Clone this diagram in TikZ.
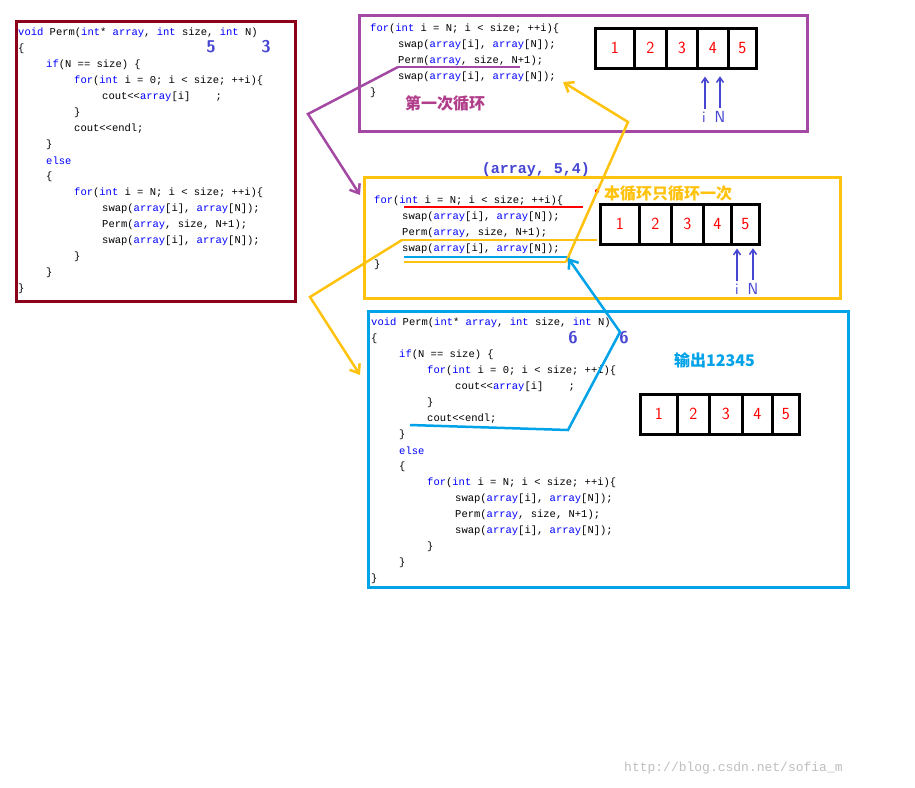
\documentclass[tikz,border=0pt]{standalone}
\usepackage{fontspec}
\setmonofont{Liberation Mono}
\newfontfamily\cjk{Noto Sans CJK SC}
\usetikzlibrary{arrows.meta}
\definecolor{kwb}{RGB}{0,0,255}
\definecolor{maroon}{RGB}{140,0,26}
\definecolor{purp}{RGB}{163,73,164}
\definecolor{yel}{RGB}{255,194,14}
\definecolor{sky}{RGB}{0,162,232}
\definecolor{numb}{RGB}{70,70,210}
\newcommand{\kw}[1]{\textcolor{kwb}{#1}}
\tikzset{code/.style={anchor=west,inner sep=0pt,font=\ttfamily\fontsize{10.5}{12}\selectfont},
 cell/.style={draw=black,line width=2.5pt,minimum height=40pt,inner sep=0pt,text=red,font=\sffamily\fontsize{17}{18}\selectfont},
 big/.style={font=\sffamily\bfseries\fontsize{17}{18}\selectfont,text=numb,inner sep=0pt},
 ptr/.style={-{Straight Barb[length=5pt,width=7pt]},numb,line width=1.5pt},
 hl/.style={line width=2.5pt},
 ar/.style={hl,-{Straight Barb[length=8pt,width=12pt]}}}
\begin{document}
\begin{tikzpicture}[x=1pt,y=-1pt]
\useasboundingbox[fill=white] (0,0) rectangle (915,787);
% left box
\draw[maroon,line width=3pt] (16,21) rectangle (295,301);
\node[code] (a1) at (18,33) {\kw{void} Perm(\kw{int}* \kw{array}, \kw{int} size, \kw{int} N)};
\node[code] (a2) at (18,49) {\{};
\node[big] (a5) at (211,47) {5};
\node[big] (a3) at (266,47) {3};
\node[code] (a3l) at (46,65) {\kw{if}(N == size) \{};
\node[code] (a4) at (74,81) {\kw{for}(\kw{int} i = 0; i < size; ++i)\{};
\node[code] (a6) at (102,97) {cout<<\kw{array}[i]~~~~;};
\node[code] (a7) at (74,113) {\}};
\node[code] (a8) at (74,129) {cout<<endl;};
\node[code] (a9) at (46,145) {\}};
\node[code] (a10) at (46,161) {\kw{else}};
\node[code] (a11) at (46,177) {\{};
\node[code] (a12) at (74,193) {\kw{for}(\kw{int} i = N; i < size; ++i)\{};
\node[code] (a13) at (102,209) {swap(\kw{array}[i], \kw{array}[N]);};
\node[code] (a14) at (102,225) {Perm(\kw{array}, size, N+1);};
\node[code] (a15) at (102,241) {swap(\kw{array}[i], \kw{array}[N]);};
\node[code] (a16) at (74,257) {\}};
\node[code] (a17) at (46,273) {\}};
\node[code] (a18) at (18,289) {\}};
% purple box
\draw[purp,line width=3pt] (359,15) rectangle (807,131);
\node[code] (p1) at (370,29) {\kw{for}(\kw{int} i = N; i < size; ++i)\{};
\node[code] (p2) at (398,45) {swap(\kw{array}[i], \kw{array}[N]);};
\node[code] (p3) at (398,61) {Perm(\kw{array}, size, N+1);};
\node[code] (p4) at (398,77) {swap(\kw{array}[i], \kw{array}[N]);};
\node[code] (p5) at (370,93) {\}};
\node[anchor=west,inner sep=0pt,text=purp!85!red,font=\cjk\bfseries\fontsize{16}{16}\selectfont] (pt) at (405,103) {第一次循环};
\foreach \x/\w/\n in {594/39/1,633/32/2,665/31/3,696/31/4,727/28/5}
  \node[cell,minimum width=\w pt,anchor=north west] (pc\n) at (\x,27) {\n};
\node[big,font=\sffamily\fontsize{16}{16}\selectfont] (pi) at (704,117) {i};
\node[big,font=\sffamily\fontsize{16}{16}\selectfont] (pn) at (720,117) {N};
\draw[ptr] (pi.north) ++(1,-3) coordinate (pia) -- ++(0,-32);
\draw[ptr] (pn.north) ++(0,-3) coordinate (pna) -- ++(0,-32);
% yellow box
\draw[yel,line width=3pt] (364,177) rectangle (840,298);
\node[big,font=\ttfamily\bfseries\fontsize{15}{16}\selectfont] (call) at (536,170) {(array, 5,4)};
\node[code] (y1) at (374,201) {\kw{for}(\kw{int} i = N; i < size; ++i)\{};
\node[code] (y2) at (402,217) {swap(\kw{array}[i], \kw{array}[N]);};
\node[code] (y3) at (402,233) {Perm(\kw{array}, size, N+1);};
\node[code] (y4) at (402,249) {swap(\kw{array}[i], \kw{array}[N]);};
\node[code] (y5) at (374,265) {\}};
\draw[red,hl] (404,207) -- (583,207);
\node[circle,fill=red,inner sep=1.5pt] (rd) at (597,191) {};
\node[anchor=west,inner sep=0pt,text=yel,font=\cjk\bfseries\fontsize{16}{16}\selectfont] (yt) at (604,194) {本循环只循环一次};
\foreach \x/\w/\n in {599/39/1,638/32/2,670/32/3,702/28/4,730/28/5}
  \node[cell,minimum width=\w pt,anchor=north west] (yc\n) at (\x,203) {\n};
\node[big,font=\sffamily\fontsize{16}{16}\selectfont] (yi) at (737,289) {i};
\node[big,font=\sffamily\fontsize{16}{16}\selectfont] (yn) at (753,289) {N};
\draw[ptr] (yi.north) ++(0,-3) -- ++(0,-32);
\draw[ptr] (yn.north) ++(0,-3) -- ++(0,-32);
\draw[sky,hl] (404,257) -- (570,257);
\draw[yel,hl] (404,262) -- (566,262);
\draw[yel,hl] (402,240) -- (597,240);
\draw[purp,hl] (398,67) -- (520,67);
% blue box
\draw[sky,line width=3pt] (368,311) rectangle (848,587);
\node[code] (b1) at (371,323) {\kw{void} Perm(\kw{int}* \kw{array}, \kw{int} size, \kw{int} N)};
\node[code] (b2) at (371,339) {\{};
\node[big] (b6a) at (573,338) {6};
\node[big] (b6b) at (624,338) {6};
\node[code] (b3) at (399,355) {\kw{if}(N == size) \{};
\node[code] (b4) at (427,371) {\kw{for}(\kw{int} i = 0; i < size; ++i)\{};
\node[code] (b5) at (455,387) {cout<<\kw{array}[i]~~~~;};
\node[code] (b7) at (427,403) {\}};
\node[code] (b8) at (427,419) {cout<<endl;};
\node[code] (b9) at (399,435) {\}};
\node[code] (b10) at (399,451) {\kw{else}};
\node[code] (b11) at (399,467) {\{};
\node[code] (b12) at (427,483) {\kw{for}(\kw{int} i = N; i < size; ++i)\{};
\node[code] (b13) at (455,499) {swap(\kw{array}[i], \kw{array}[N]);};
\node[code] (b14) at (455,515) {Perm(\kw{array}, size, N+1);};
\node[code] (b15) at (455,531) {swap(\kw{array}[i], \kw{array}[N]);};
\node[code] (b16) at (427,547) {\}};
\node[code] (b17) at (399,563) {\}};
\node[code] (b18) at (371,579) {\}};
\node[anchor=west,inner sep=0pt,text=sky,font=\cjk\bfseries\fontsize{16}{16}\selectfont] (bt) at (674,360) {输出12345};
\foreach \x/\w/\n in {639/37/1,676/32/2,708/33/3,741/30/4,771/27/5}
  \node[cell,minimum width=\w pt,anchor=north west] (bc\n) at (\x,393) {\n};
% connectors
\coordinate (pu) at (398,67);
\coordinate (pm) at (308,114);
\coordinate (pe) at (360,195);
\draw[purp,ar] (pu) -- (pm) -- (pe);
\coordinate (yu) at (402,240);
\coordinate (ym) at (310,297);
\coordinate (ye) at (360,375);
\draw[yel,ar] (yu) -- (ym) -- (ye);
\coordinate (yu2) at (566,262);
\coordinate (ym2) at (628,122);
\coordinate (ye2) at (563,82);
\draw[yel,ar] (yu2) -- (ym2) -- (ye2);
\coordinate (bu) at (410,425);
\coordinate (bm1) at (568,430);
\coordinate (bm2) at (620,332);
\coordinate (be) at (568,258);
\draw[sky,ar] (bu) -- (bm1) -- (bm2) -- (be);
\node[anchor=west,inner sep=0pt,text=black!25,font=\ttfamily\fontsize{13}{14}\selectfont] (wm) at (624,768) {http://blog.csdn.net/sofia\_m};
\end{tikzpicture}
\end{document}
